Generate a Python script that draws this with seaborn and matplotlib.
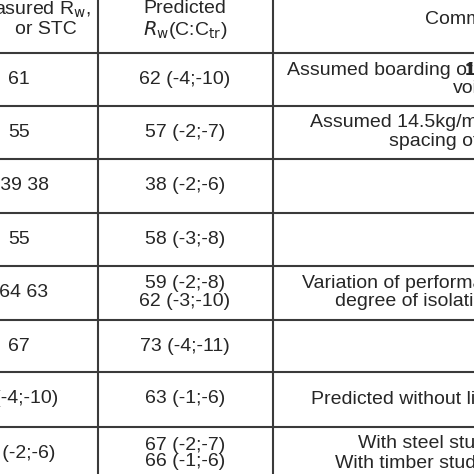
import matplotlib
matplotlib.use("Agg")
import matplotlib.pyplot as plt
import seaborn as sns

sns.set_theme(style="white")
plt.rcParams['font.family'] = ['Liberation Sans', 'DejaVu Sans']

# table content (cropped view of a wider table)
row_lines = [53, 106, 159, 213, 266, 320, 372, 427]
col_lines = [98, 273]

measured = ["61", "55", "40 39 38", "55", "65 64 63", "67", "62 (-4;-10)", "64 (-2;-6)"]
measured_x = [8, 8, -27, 8, -28, 8, -33, -25]
predicted = ["62 (-4;-10)", "57 (-2;-7)", "38 (-2;-6)", "58 (-3;-8)",
             "59 (-2;-8)\n62 (-3;-10)", "73 (-4;-11)", "63 (-1;-6)",
             "67 (-2;-7)\n66 (-1;-6)"]
comments = [
    [("Assumed boarding of", 287, 70, False), ("12.5mm", 465, 70, True), ("voids", 453, 88, False)],
    [("Assumed 14.5kg/m\u00b2 boarding", 310, 122, False), ("spacing of studs", 389, 142, False)],
    [],
    [],
    [("Variation of performance with", 302, 283, False), ("degree of isolation", 335, 301, False)],
    [],
    [("Predicted without lightweight", 311, 400, False)],
    [("With steel stud", 358, 443, False), ("With timber stud", 335, 463, False)],
]

fig = plt.figure(figsize=(4.74, 4.74), dpi=100)
ax = fig.add_axes([0, 0, 1, 1])
ax.set_xlim(0, 474)
ax.set_ylim(474, 0)
ax.axis("off")

lc = "#3a3a3a"
for y in row_lines:
    ax.axhline(y, color=lc, lw=1.5)
for x in col_lines:
    ax.axvline(x, color=lc, lw=1.5)

fs = 14
# header
ax.text(-33, 10, "Measured R$_{\\rm w}$,", fontsize=fs, va="center", ha="left")
ax.text(15, 29, "or STC", fontsize=fs, va="center", ha="left")
ax.text(185, 8, "Predicted", fontsize=fs, va="center", ha="center")
ax.text(185, 30, "$R_{\\rm w}$(C:C$_{\\rm tr}$)", fontsize=fs, va="center", ha="center")
ax.text(425, 19, "Comments", fontsize=fs, va="center", ha="left")

tops = row_lines
for i, (m, mx, p) in enumerate(zip(measured, measured_x, predicted)):
    yc = tops[i] + 26.5
    ax.text(mx, yc, m, fontsize=fs, va="center", ha="left")
    ax.text(185, yc, p, fontsize=fs, va="center", ha="center", linespacing=1.0)
    for txt, x, y, bold in comments[i]:
        ax.text(x, y, txt, fontsize=fs, va="center", ha="left",
                fontweight="bold" if bold else "normal")

fig.savefig("out.png", dpi=100)
